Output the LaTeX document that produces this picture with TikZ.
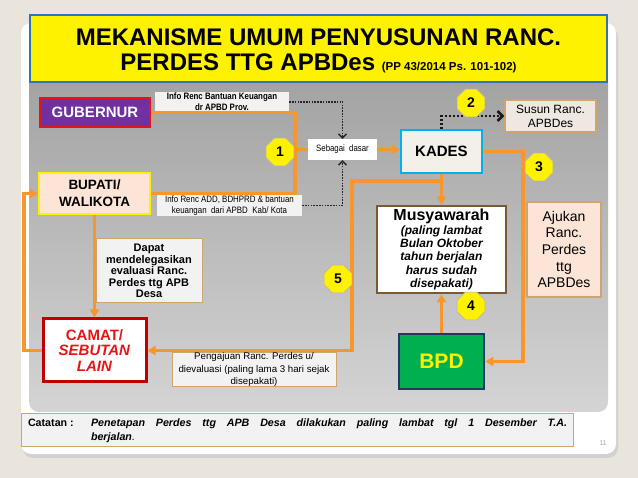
\documentclass[tikz,border=0pt]{standalone}
\usepackage{fontspec}
\setmainfont{Liberation Sans}
\newfontfamily\narrowfont[FakeStretch=0.85]{Liberation Sans}
\usetikzlibrary{shapes.geometric,arrows.meta}
\definecolor{bgc}{RGB}{233,228,220}
\definecolor{orng}{RGB}{247,150,45}
\definecolor{tanb}{RGB}{205,165,115}
\definecolor{lgrey}{RGB}{242,242,242}
\definecolor{peach}{RGB}{252,228,214}
\definecolor{purp}{RGB}{112,48,160}
\definecolor{redb}{RGB}{230,20,20}
\definecolor{dred}{RGB}{192,0,0}
\definecolor{cyanb}{RGB}{0,176,240}
\definecolor{kadesf}{RGB}{243,239,233}
\definecolor{brownb}{RGB}{120,90,55}
\definecolor{greenf}{RGB}{0,176,80}
\definecolor{navyb}{RGB}{31,56,100}
\definecolor{titleb}{RGB}{46,117,182}
\definecolor{susunf}{RGB}{238,232,224}
\begin{document}
\begin{tikzpicture}[x=1pt,y=-1pt,
  box/.style={rectangle, inner sep=0pt, align=center},
  oline/.style={draw=orng, line width=3.5pt},
  otip/.style={-{Triangle[length=8pt,width=9pt]}},
  dline/.style={draw=black!85, line width=1.4pt, dash pattern=on 1.5pt off 1.3pt, -{Straight Barb[length=4pt,width=8pt]}},
  dlinetwo/.style={draw=black!90, line width=2.6pt, dash pattern=on 2.2pt off 1.8pt, -{Straight Barb[length=5pt,width=10pt]}},
  oct/.style={regular polygon, regular polygon sides=8, minimum size=30pt, inner sep=0pt, fill=yellow, draw=gray!60, line width=0.6pt, font=\bfseries\fontsize{14}{14}\selectfont}
]
\useasboundingbox (0,0) rectangle (638,478);
\fill[bgc] (0,0) rectangle (638,478);
% slide panel
\fill[rounded corners=10pt, black!18] (23,27) rectangle (618,458);
\fill[rounded corners=10pt, white] (21,23) rectangle (616,454);
% grey area
\shade[top color={rgb,255:red,163;green,163;blue,163}, bottom color={rgb,255:red,212;green,212;blue,212}, middle color={rgb,255:red,188;green,188;blue,188}]
  (29,82) -- (608,82) [rounded corners=10pt] -- (608,412) -- (29,412) [sharp corners] -- cycle;
% title
\node[box, fill=yellow, draw=titleb, line width=2.5pt, minimum width=577pt, minimum height=67pt] (title) at (318.5,48.5) {};
\node[box, font=\bfseries\fontsize{24}{24.5}\selectfont] (titletext) at (318.5,51)
  {MEKANISME UMUM PENYUSUNAN RANC.\\PERDES TTG APBDes {\fontsize{11.5}{11.5}\selectfont (PP 43/2014 Ps. 101-102)}};

% nodes
\node[box, fill=purp, draw=redb, line width=2.5pt, minimum width=110pt, minimum height=29pt,
  text=white, font=\bfseries\fontsize{15}{17}\selectfont] (gub) at (95,112.5) {GUBERNUR};
\node[box, fill=lgrey, minimum width=134pt, minimum height=20pt,
  font=\narrowfont\bfseries\fontsize{9.3}{11}\selectfont] (info1) at (222,102)
  {Info Renc Bantuan Keuangan\\dr APBD Prov.};
\node[box, fill=peach, draw=yellow, line width=2.5pt, minimum width=111pt, minimum height=41pt,
  font=\bfseries\fontsize{13.5}{17}\selectfont] (bup) at (94.5,193.5) {BUPATI/\\WALIKOTA};
\node[box, fill=lgrey, minimum width=145pt, minimum height=21pt,
  font=\narrowfont\fontsize{9.3}{11}\selectfont] (info2) at (229.5,205.5)
  {Info Renc ADD, BDHPRD \& bantuan\\keuangan~ dari APBD~ Kab/ Kota};
\node[box, fill=white, minimum width=69pt, minimum height=21pt,
  font=\narrowfont\fontsize{9.2}{11}\selectfont] (dasar) at (342.5,149.5) {Sebagai~ dasar};
\node[box, fill=kadesf, draw=cyanb, line width=2.5pt, minimum width=81pt, minimum height=43pt,
  font=\bfseries\fontsize{15}{17}\selectfont] (kades) at (441.5,151.5) {KADES};
\node[box, fill=susunf, draw=tanb, line width=1.2pt, minimum width=91pt, minimum height=32pt,
  font=\fontsize{12}{14}\selectfont] (susun) at (550.5,116) {Susun Ranc.\\APBDes};
\node[box, fill=white, draw=brownb, line width=2.5pt, minimum width=129pt, minimum height=87pt,
  font=\bfseries\itshape\fontsize{12}{13.3}\selectfont] (musy) at (441.5,249.5)
  {{\upshape\fontsize{16}{18}\selectfont Musyawarah}\\(paling lambat\\Bulan Oktober\\tahun berjalan\\harus sudah\\disepakati)};
\node[box, fill=peach, draw=tanb, line width=1.2pt, minimum width=74pt, minimum height=95pt,
  font=\fontsize{14}{16.7}\selectfont] (ajukan) at (564,249.5) {Ajukan\\Ranc.\\Perdes\\ttg\\APBDes};
\node[box, fill=greenf, draw=navyb, line width=2.5pt, minimum width=85pt, minimum height=55pt,
  text=yellow, font=\bfseries\fontsize{21}{23}\selectfont] (bpd) at (441.5,361.5) {BPD};
\node[box, fill=white, draw=dred, line width=3pt, minimum width=103pt, minimum height=63pt,
  text=redb, font=\bfseries\fontsize{15}{15.5}\selectfont] (camat) at (94.5,350.5)
  {CAMAT/\\\textit{SEBUTAN}\\\textit{LAIN}};
\node[box, fill=lgrey, draw=tanb, line width=1pt, minimum width=106pt, minimum height=64pt,
  font=\bfseries\fontsize{11}{11.5}\selectfont] (dapat) at (149,271)
  {Dapat\\mendelegasikan\\evaluasi Ranc.\\Perdes ttg APB\\Desa};
\node[box, fill=lgrey, draw=tanb, line width=1pt, minimum width=164pt, minimum height=32pt,
  font=\fontsize{9.7}{12.3}\selectfont] (peng) at (254,369.5)
  {Pengajuan Ranc. Perdes u/\\dievaluasi (paling lama 3 hari sejak\\disepakati)};

% note
\node[box, fill=lgrey, draw=tanb, line width=1pt, minimum width=552pt, minimum height=33pt] (cat) at (297,430.5) {};
\node[inner sep=0pt, align=left, font=\bfseries\fontsize{10.7}{14}\selectfont] (cattext) at (297.5,431)
  {\makebox[63pt][l]{Catatan :}\parbox[t]{476pt}{\itshape Penetapan Perdes ttg APB Desa dilakukan paling lambat tgl 1 Desember T.A.\linebreak berjalan{\mdseries.}}};
\node[text=gray!70, font=\fontsize{7}{8}\selectfont, inner sep=0pt] (pnum) at (603,443) {11};

% connectors
\coordinate (j1) at (295,149.5);
\draw[oline] (gub.east) -| (j1) |- (bup.east);
\draw[oline] (j1) -- (dasar.west);
\draw[oline, otip] (dasar.east) -- (dasar.east -| kades.west);
\draw[dline] (info1.east) -| (dasar.north);
\draw[dline] (info2.east) -| (dasar.south);
\draw[dlinetwo] (kades.north) |- (susun.west);
\coordinate (k3) at (523,0);
\draw[oline, otip] (kades.east) -| (k3 |- bpd.east) -- (bpd.east);
\draw[oline, otip] (kades.south) -- (musy.north);
\coordinate (k5) at (352,181);
\draw[oline, otip] (kades.south |- k5) -- (k5) |- (camat.east);
\draw[oline, otip] (bpd.north) -- (musy.south);
\draw[oline, otip] (bup.south) -- (camat.north);
\coordinate (c6) at (24,0);
\draw[oline, otip] (camat.west) -- (camat.west -| c6) |- (bup.west);

% step markers
\node[oct] (n1) at (280,152) {1};
\node[oct] (n2) at (471,103) {2};
\node[oct] (n3) at (539,167) {3};
\node[oct] (n4) at (471,306) {4};
\node[oct] (n5) at (338,279) {5};
\end{tikzpicture}
\end{document}
